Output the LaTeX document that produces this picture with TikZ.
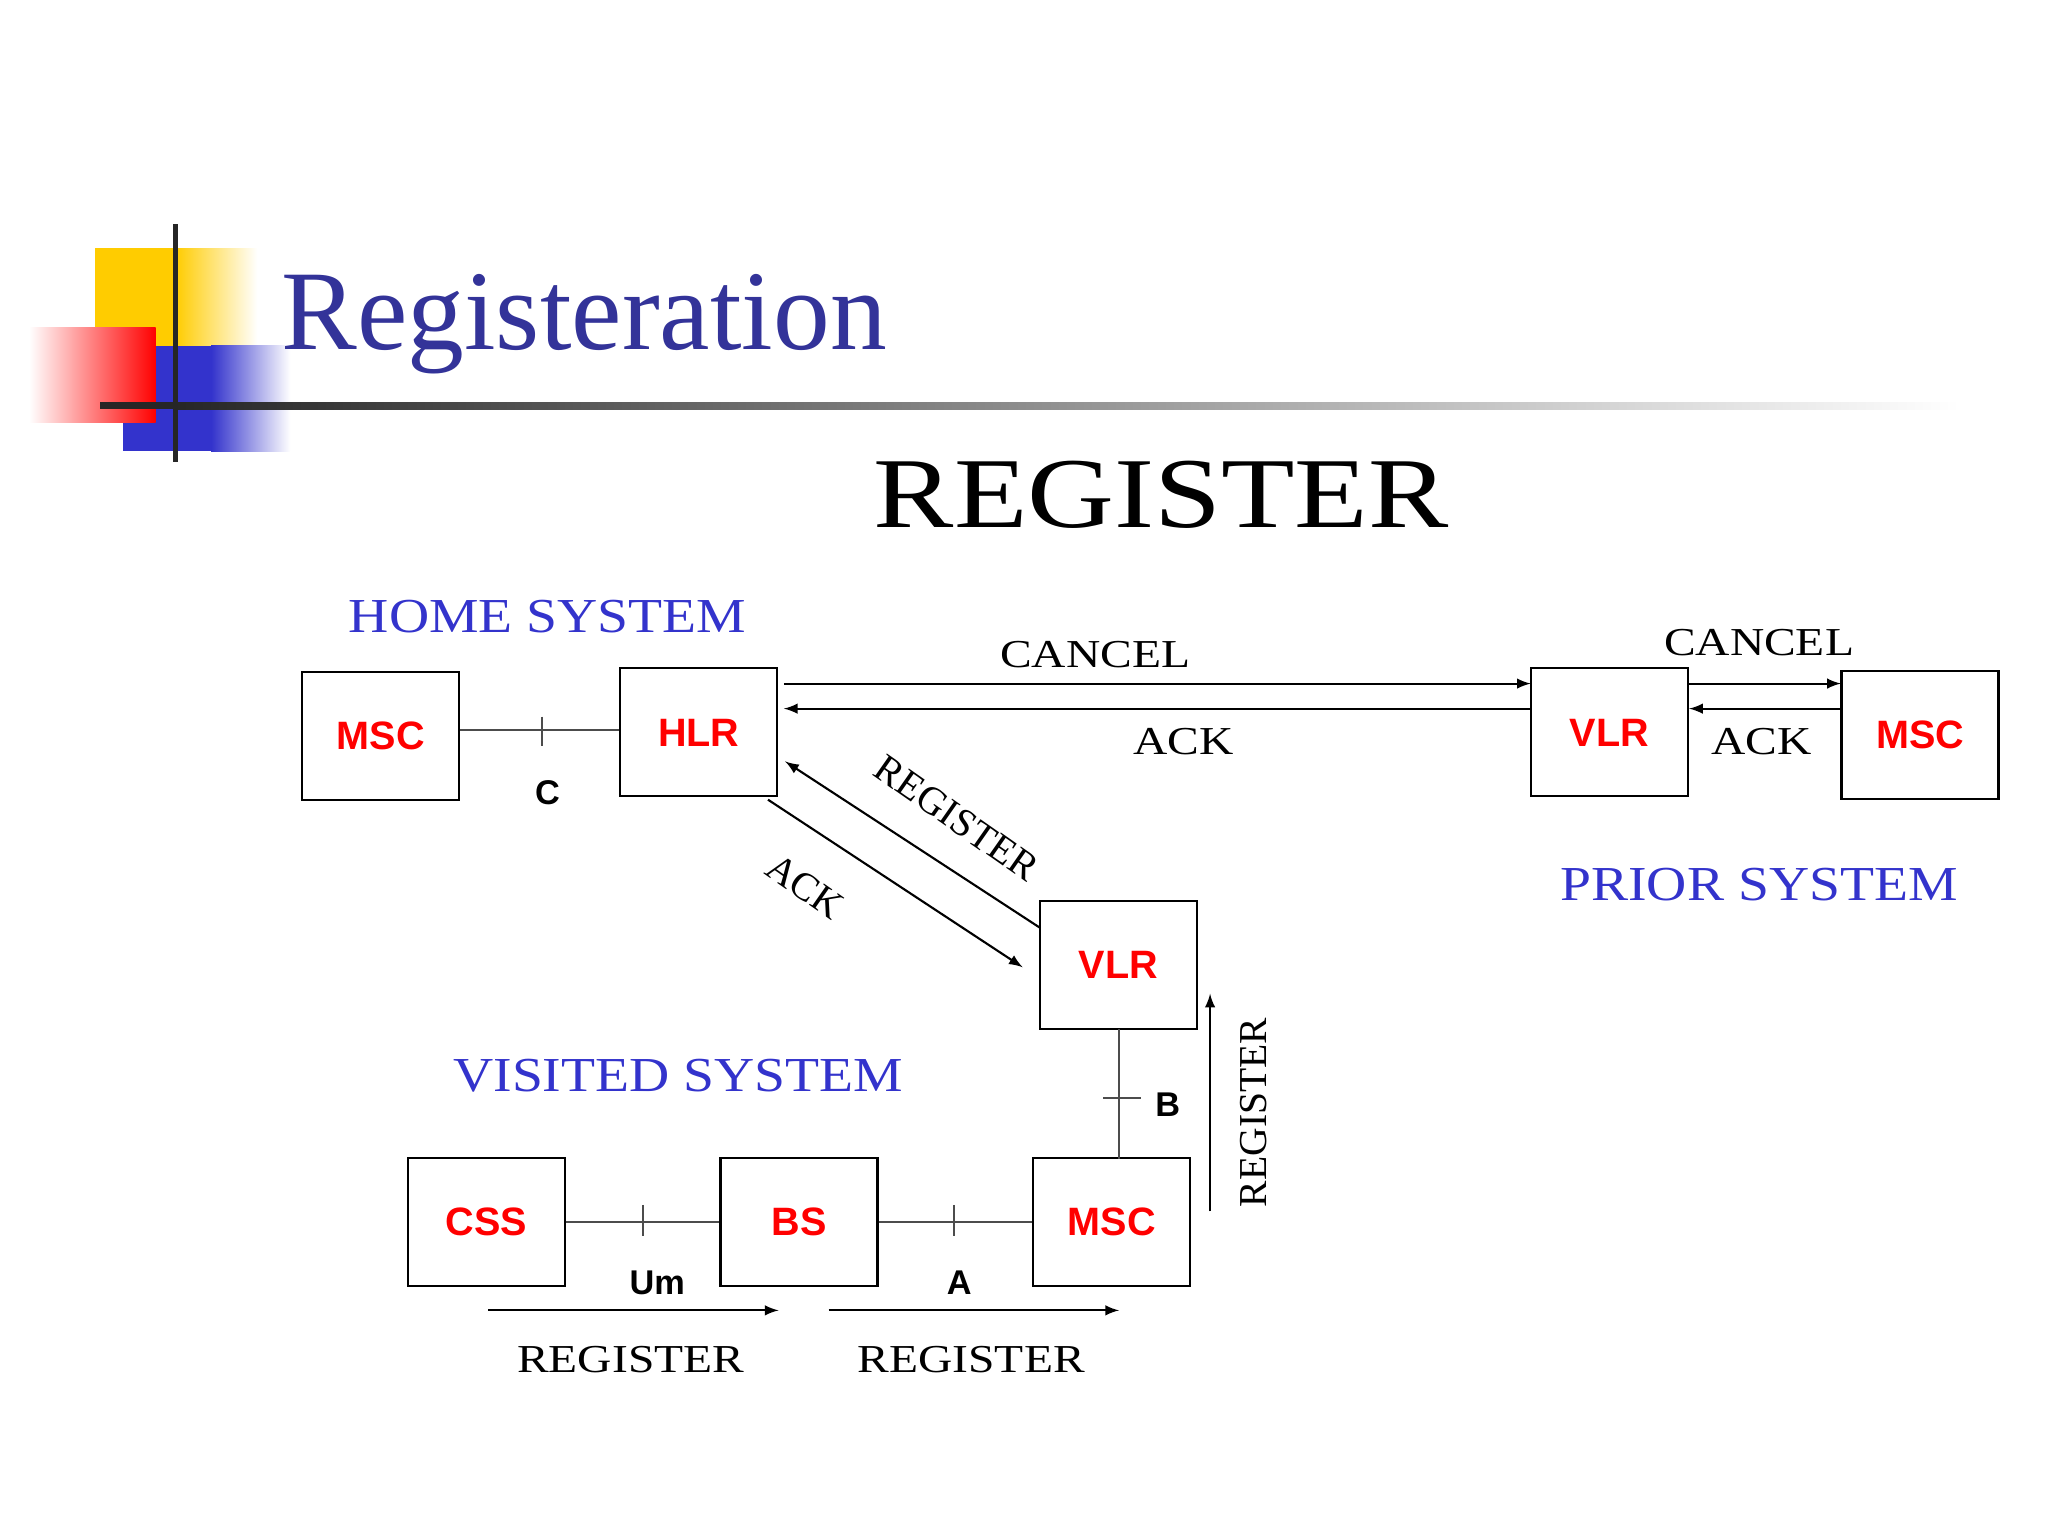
\documentclass[tikz,border=0pt]{standalone}
\usepackage{fontspec}
\setmainfont{Liberation Serif}
\newfontfamily\sansf{Liberation Sans}
\definecolor{decY}{RGB}{255,204,0}
\definecolor{decB}{RGB}{51,51,204}
\definecolor{titleB}{RGB}{51,51,153}
\definecolor{sysB}{RGB}{51,51,204}
\begin{document}
\begin{tikzpicture}[x=0.5pt,y=-0.5pt,
  box/.style={draw,thick,minimum width=59.5pt,minimum height=48.5pt,inner sep=0pt,font=\sansf\bfseries\fontsize{15}{15}\selectfont,text=red},
  lbl/.style={font=\fontsize{15}{15}\selectfont,xscale=1.2},
  ifl/.style={font=\sansf\bfseries\fontsize{13}{13}\selectfont},
  sys/.style={font=\fontsize{18.5}{19}\selectfont,text=sysB,xscale=1.14},
  con/.style={draw=black!70,thick},
  arr/.style={thick,-latex}]
\useasboundingbox (0,0) rectangle (1552,1164);
% decoration
\shade[left color=decY,right color=white] (133,188) rectangle (195,262);
\fill[decY] (72,188) rectangle (133,262);
\shade[left color=decB,right color=white] (160,262) rectangle (220,342);
\fill[decB] (93,262) rectangle (160,342);
\shade[left color=white,right color=red] (22,248) rectangle (118,320);
\shade[left color=black!85,right color=white] (133,305) rectangle (1485,310);
\fill[black!85] (76,305) rectangle (133,310);
\draw[line width=2pt,black!85] (133,170) -- (133,350);
\node[anchor=base west,inner sep=0pt,font=\fontsize{43}{43}\selectfont,text=titleB] (title) at (213,265) {Registeration};
\node[anchor=base,inner sep=0pt,font=\fontsize{38}{38}\selectfont,xscale=1.2] (head) at (880,400) {REGISTER};
% systems
\node[sys] (hs) at (415,467) {HOME SYSTEM};
\node[sys] (ps) at (1333,670) {PRIOR SYSTEM};
\node[sys] (vs) at (514,815) {VISITED SYSTEM};
% boxes
\node[box] (msch) at (288.5,558) {MSC};
\node[box] (hlr) at (529.5,555) {HLR};
\node[box] (vlrp) at (1219.5,555) {VLR};
\node[box] (mscp) at (1455,557) {MSC};
\node[box] (vlrv) at (847.5,731.5) {VLR};
\node[box] (css) at (368.5,926) {CSS};
\node[box] (bs) at (605.5,926) {BS};
\node[box] (mscv) at (842.5,926) {MSC};
% links
\draw[con] (msch.east |- 0,553) -- (hlr.west |- 0,553);
\draw[con] (411,543) -- (411,565);
\node[ifl] (c) at (415,601) {C};
\draw[con] (css.east) -- (bs.west);
\draw[con] (487,913) -- (487,937);
\node[ifl] (um) at (498,972) {Um};
\draw[con] (bs.east) -- (mscv.west);
\draw[con] (723,913) -- (723,937);
\node[ifl] (a) at (727,972) {A};
\draw[con] (848,780) -- (848,878);
\draw[con] (836,832) -- (865,832);
\node[ifl] (b) at (885,837) {B};
% coordinates for arrows
\coordinate (h1) at (594,518); \coordinate (v1) at (1160,518);
\coordinate (h2) at (594,537); \coordinate (v2) at (1160,537);
\coordinate (p1) at (1280,518); \coordinate (m1) at (1395,518);
\coordinate (p2) at (1280,537); \coordinate (m2) at (1395,537);
\draw[arr] (h1) -- (v1);
\draw[arr] (v2) -- (h2);
\draw[arr] (p1) -- (m1);
\draw[arr] (m2) -- (p2);
\node[lbl] at (830,496) {CANCEL};
\node[lbl] at (897,562) {ACK};
\node[lbl] at (1333,487) {CANCEL};
\node[lbl] at (1335,562) {ACK};
\coordinate (d1) at (788,703); \coordinate (d2) at (595,577);
\coordinate (d3) at (582,606); \coordinate (d4) at (775,733);
\draw[arr] (d1) -- (d2);
\draw[arr] (d3) -- (d4);
\node[font=\fontsize{15}{15}\selectfont,rotate=-35] at (725,620) {REGISTER};
\node[font=\fontsize{15}{15}\selectfont,rotate=-35] at (610,672) {ACK};
\coordinate (r1) at (917,918); \coordinate (r2) at (917,753);
\draw[arr] (r1) -- (r2);
\node[font=\fontsize{15}{15}\selectfont,rotate=90] at (950,843) {REGISTER};
\coordinate (a1) at (370,993); \coordinate (a2) at (590,993);
\coordinate (a3) at (628,993); \coordinate (a4) at (848,993);
\draw[arr] (a1) -- (a2);
\draw[arr] (a3) -- (a4);
\node[lbl] at (478,1030) {REGISTER};
\node[lbl] at (736,1030) {REGISTER};
\end{tikzpicture}
\end{document}
